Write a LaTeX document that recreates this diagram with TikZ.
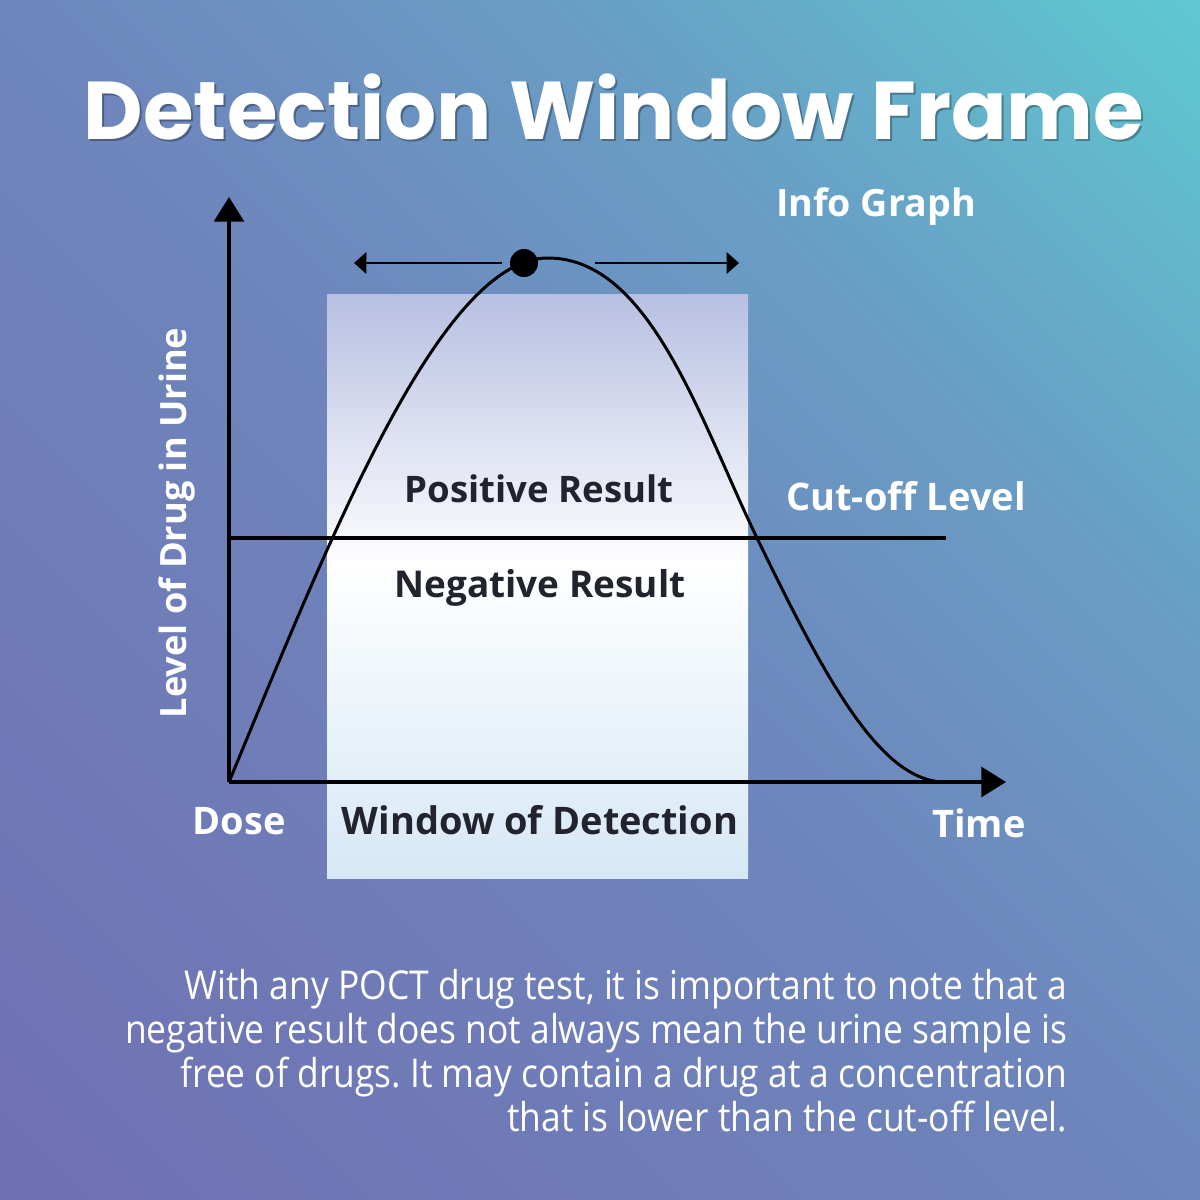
\documentclass[tikz,border=0pt]{standalone}
\usepackage{fontspec}
\setmainfont{Open Sans}
\newfontfamily\titlefont{Poppins}
\newfontfamily\bodyfont[FakeStretch=0.89]{Open Sans}
\usepackage{tikz}
\usetikzlibrary{
    arrows.meta
}
\frenchspacing

\definecolor{bgpurple}{HTML}{7070B2}
\definecolor{bgmid}{HTML}{6E86BC}
\definecolor{bglight}{HTML}{68A0C6}
\definecolor{bgteal}{HTML}{5FC8D0}
\definecolor{wintop}{HTML}{B8C0E2}
\definecolor{winbot}{HTML}{D6E8F5}
\definecolor{darktext}{HTML}{23232E}

\pgfdeclarehorizontalshading{bgshade}{100bp}{color(0bp)=(bgpurple); color(15bp)=(bgpurple);
    color(50bp)=(bgmid); color(68bp)=(bglight); color(85bp)=(bgteal); color(100bp)=(bgteal)}

\begin{document}
\begin{tikzpicture}[x=0.01cm,y=-0.01cm,
    axisline/.style={line width=0.9pt,-{Triangle[length=7pt,width=8.5pt]}},
    spanarrow/.style={line width=0.8pt,-{Triangle[length=3.5pt,width=6pt]}},
    whitelabel/.style={text=white,font=\fontsize{10.8pt}{13pt}\selectfont\bfseries},
    darklabel/.style={text=darktext,font=\fontsize{10.5pt}{13pt}\selectfont\bfseries}
]

% Background
\useasboundingbox (0,0) rectangle (1200,1200);
\shade[shading=bgshade,shading angle=45] (0,0) rectangle (1200,1200);

% Title
\node[text=black,opacity=0.3,font=\titlefont\fontsize{23.3pt}{28pt}\selectfont\bfseries]
    at (616,109) {Detection Window Frame};
\node (title)[text=white,font=\titlefont\fontsize{23.3pt}{28pt}\selectfont\bfseries]
    at (614,107) {Detection Window Frame};

% Window of detection
\shade[top color=wintop,bottom color=white!96!wintop] (327,294) rectangle (748,560);
\shade[top color=white,bottom color=winbot] (327,560) rectangle (748,878);

% Axes
\coordinate (origin) at (229,782);
\coordinate (ytop) at (229,197);
\coordinate (xend) at (1006,782);
\draw[axisline] (origin) -- (ytop);
\draw[axisline] (origin) -- (xend);

% Cut-off level
\draw[line width=1.1pt] (229,538) -- (946,538);

% Drug level curve
\draw[line width=0.85pt] (origin) .. controls (330,538) and (440,258) .. (548,258)
    .. controls (650,258) and (700,420) .. (757,538)
    .. controls (825,678) and (880,782) .. (945,782);

% Peak marker and spread arrows
\fill (524,263) circle (14);
\coordinate (leftend) at (354,263);
\coordinate (rightend) at (739,263);
\draw[spanarrow] (502,263) -- (leftend);
\draw[spanarrow] (595,263) -- (rightend);

% Labels
\node (info)[whitelabel,font=\fontsize{10.7pt}{12pt}\selectfont\bfseries] at (876,207) {Info Graph};
\node (pos)[darklabel,font=\fontsize{10.4pt}{13pt}\selectfont\bfseries] at (539,489) {Positive Result};
\node (neg)[darklabel] at (540,588) {Negative Result};
\node (cut)[whitelabel] at (906,496) {Cut-off Level};
\node (dose)[whitelabel] at (239,821) {Dose};
\node (window)[darklabel,font=\fontsize{10.8pt}{13pt}\selectfont\bfseries] at (540,820) {Window of Detection};
\node (time)[whitelabel] at (979,823) {Time};
\node (ylabel)[whitelabel,rotate=90,font=\fontsize{10.3pt}{13pt}\selectfont\bfseries] at (177,523) {Level of Drug in Urine};

% Note
\node (note)[anchor=north east,align=right,text=white,inner sep=0pt,
    font=\bodyfont\fontsize{11.3pt}{12.5pt}\selectfont] at (1068,969)
    {With any POCT drug test, it is important to note that a\\
     negative result does not always mean the urine sample is\\
     free of drugs. It may contain a drug at a concentration\\
     that is lower than the cut-off level.};

\end{tikzpicture}
\end{document}
